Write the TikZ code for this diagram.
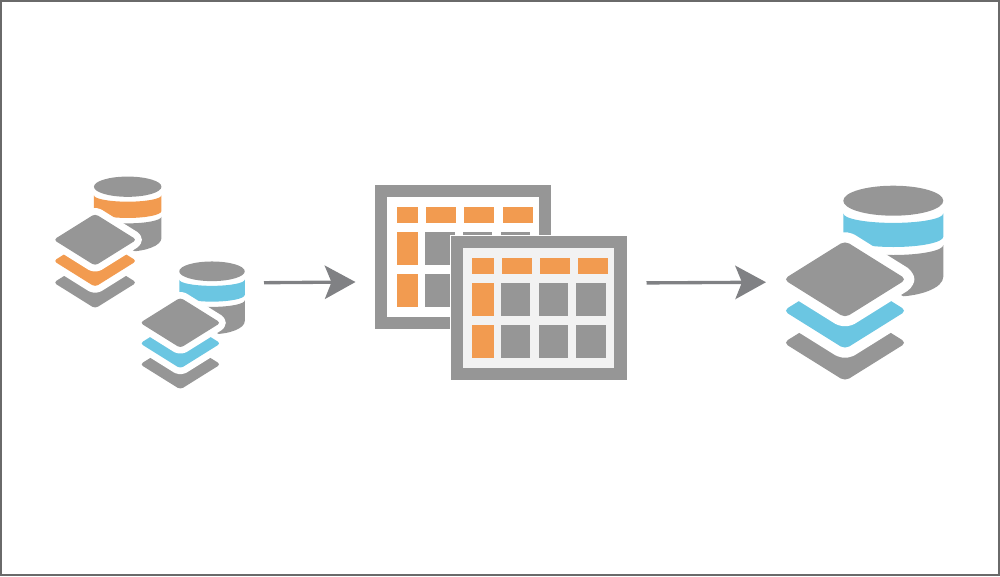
\documentclass[tikz,border=0pt]{standalone}
\usepackage{xcolor}
\usetikzlibrary{arrows.meta}

\definecolor{icongray}{HTML}{969696}
\definecolor{iconorange}{HTML}{F29B50}
\definecolor{iconblue}{HTML}{6BC6E2}
\definecolor{arrowgray}{HTML}{808184}
\definecolor{framegray}{HTML}{6A6A6A}
\definecolor{tablepaper}{HTML}{F2F2F2}

\tikzset{
  flowarrow/.style={draw=arrowgray,line width=2.5pt,-{Stealth[length=23pt,width=25pt,inset=5pt]}},
  cellgray/.style={fill=icongray},
  cellcolor/.style={fill=iconorange}
}

% #1 position of the barrel top, #2 size, #3 colour of band and layer
\newcommand{\datastack}[3]{
  \begin{scope}[shift={#1},scale=#2]
    \pgfmathsetmacro\haloline{15.5*#2}
    \pgfmathsetmacro\cornerline{5*.75*#2}
    \fill[icongray] (0,0) ellipse [x radius=50,y radius=15];
    \fill[#3] (-50,12.7) arc [start angle=180,end angle=0,x radius=50,y radius=9.5]
      -- (50,36) arc [start angle=0,end angle=180,x radius=50,y radius=10.3] -- cycle;
    \fill[icongray] (-50,44.3) arc [start angle=180,end angle=0,x radius=50,y radius=10]
      -- (50,76) arc [start angle=0,end angle=180,x radius=50,y radius=20] -- cycle;
    % layers, lowest first
    \fill[icongray,rounded corners=\cornerline pt] (-109.8,142) -- (-48.3,103.6) -- (13.2,142) -- (-48.3,180.4) -- cycle;
    \draw[white,line width=\haloline pt,line join=round,rounded corners=\cornerline pt] (-109.8,110) -- (-48.3,71.6) -- (13.2,110) -- (-48.3,148.4) -- cycle;
    \fill[#3,rounded corners=\cornerline pt] (-109.8,110) -- (-48.3,71.6) -- (13.2,110) -- (-48.3,148.4) -- cycle;
    \draw[white,line width=\haloline pt,line join=round,rounded corners=\cornerline pt] (-109.8,78.6) -- (-48.3,40.2) -- (13.2,78.6) -- (-48.3,117) -- cycle;
    \fill[icongray,rounded corners=\cornerline pt] (-109.8,78.6) -- (-48.3,40.2) -- (13.2,78.6) -- (-48.3,117) -- cycle;
  \end{scope}
}

% #1 top left corner, #2 colour of the paper
\newcommand{\datatable}[2]{
  \begin{scope}[shift={#1}]
    \filldraw[fill=icongray,draw=white,line width=.4pt] (0,0) rectangle (176.7,144.3);
    \fill[#2] (12.7,12.7) rectangle (164,132);
    \fill[cellcolor] (22,22) rectangle (43.7,38.7);
    \fill[cellcolor] (51.7,22) rectangle (81.7,38.7);
    \fill[cellcolor] (89.7,22) rectangle (119.7,38.7);
    \fill[cellcolor] (128,22) rectangle (158,38.7);
    \fill[cellcolor] (22,47) rectangle (43.7,80.7);
    \fill[cellcolor] (22,89) rectangle (43.7,122.7);
    \fill[cellgray] (50.7,47) rectangle (80,80.7);
    \fill[cellgray] (88.3,47) rectangle (117.7,80.7);
    \fill[cellgray] (126,47) rectangle (155.3,80.7);
    \fill[cellgray] (50.7,89) rectangle (80,122.7);
    \fill[cellgray] (88.3,89) rectangle (117.7,122.7);
    \fill[cellgray] (126,89) rectangle (155.3,122.7);
  \end{scope}
}

\begin{document}
\begin{tikzpicture}[x=.75pt,y=-.75pt]
    \useasboundingbox (0,0) rectangle (1000,576);
    \draw[framegray,line width=1.5pt] (1,1) rectangle (999,575);

    \datastack{(127.7,186.7)}{.675}{iconorange}
    \datastack{(212,271.3)}{.655}{iconblue}

    \datatable{(374.7,184.7)}{white}
    \datatable{(450.3,235.7)}{tablepaper}

    \datastack{(893.3,200.7)}{1}{iconblue}

    \coordinate (sourcesout) at (264,282.7);
    \coordinate (tablesin) at (355.5,282);
    \coordinate (tablesout) at (646.5,282.9);
    \coordinate (targetin) at (766,282.2);
    \draw[flowarrow] (sourcesout) -- (tablesin);
    \draw[flowarrow] (tablesout) -- (targetin);
  \end{tikzpicture}
\end{document}
